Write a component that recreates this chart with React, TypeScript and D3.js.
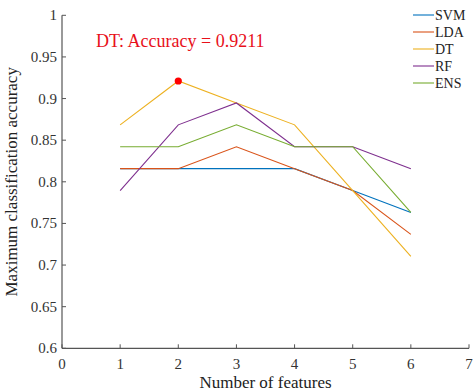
import React from "react";
import * as d3 from "d3";

const features = [1, 2, 3, 4, 5, 6];
const seriesNames = ["SVM", "LDA", "DT", "RF", "ENS"];
const svmValues = [0.8158, 0.8158, 0.8158, 0.8158, 0.7895, 0.7632];
const ldaValues = [0.8158, 0.8158, 0.8421, 0.8158, 0.7895, 0.7368];
const dtValues = [0.8684, 0.9211, 0.8947, 0.8684, 0.7895, 0.7105];
const rfValues = [0.7895, 0.8684, 0.8947, 0.8421, 0.8421, 0.8158];
const ensValues = [0.8421, 0.8421, 0.8684, 0.8421, 0.8421, 0.7632];
const xTicks = [0, 1, 2, 3, 4, 5, 6, 7];
const yTicks = [0.6, 0.65, 0.7, 0.75, 0.8, 0.85, 0.9, 0.95, 1];
const bestX = 2;
const bestY = 0.9211;
const annotation = "DT: Accuracy = 0.9211";

const colors = ["#0072BD", "#D95319", "#EDB120", "#7E2F8E", "#77AC30"];
const font = "'Liberation Serif', 'Times New Roman', serif";

export default function App() {
  const W = 474, H = 392;
  const x = d3.scaleLinear().domain([0, 7]).range([62, 469]);
  const y = d3.scaleLinear().domain([0.6, 1]).range([348.3, 15.3]);
  const allSeries = [svmValues, ldaValues, dtValues, rfValues, ensValues];
  const line = d3.line<number>().x((_, i) => x(features[i])).y((d) => y(d));
  const axisColor = "#555";
  return (
    <svg width={W} height={H} style={{ position: "absolute", left: 0, top: 0, background: "#fff" }} fontFamily={font}>
      {allSeries.map((s, i) => (
        <path key={i} d={line(s) || ""} fill="none" stroke={colors[i]} strokeWidth={1.1} />
      ))}
      <circle cx={x(bestX)} cy={y(bestY)} r={3.6} fill="#f00" />
      <text x={96} y={47} fill="#e8101a" fontSize={18}>{annotation}</text>
      <line x1={x(0)} x2={x(0)} y1={y(1)} y2={y(0.6)} stroke={axisColor} strokeWidth={1.2} />
      <line x1={x(0)} x2={x(7)} y1={y(0.6)} y2={y(0.6)} stroke={axisColor} strokeWidth={1.2} />
      {yTicks.map((t) => (
        <g key={t}>
          <line x1={x(0)} x2={x(0) + 4} y1={y(t)} y2={y(t)} stroke={axisColor} strokeWidth={1} />
          <text x={57} y={y(t) + 5} textAnchor="end" fontSize={15} fill="#333">{String(t)}</text>
        </g>
      ))}
      {xTicks.map((t) => (
        <g key={t}>
          <line x1={x(t)} x2={x(t)} y1={y(0.6)} y2={y(0.6) - 4} stroke={axisColor} strokeWidth={1} />
          <text x={x(t)} y={369} textAnchor="middle" fontSize={15} fill="#333">{String(t)}</text>
        </g>
      ))}
      <text x={265.5} y={388} textAnchor="middle" fontSize={17} fill="#222">Number of features</text>
      <text transform={`translate(17,${(y(1) + y(0.6)) / 2}) rotate(-90)`} textAnchor="middle" fontSize={17} fill="#222">Maximum classification accuracy</text>
      {seriesNames.map((n, i) => (
        <g key={n}>
          <line x1={413} x2={434} y1={15 + i * 17} y2={15 + i * 17} stroke={colors[i]} strokeWidth={1.1} />
          <text x={435} y={15 + i * 17 + 5} fontSize={14} fill="#222">{n}</text>
        </g>
      ))}
    </svg>
  );
}
